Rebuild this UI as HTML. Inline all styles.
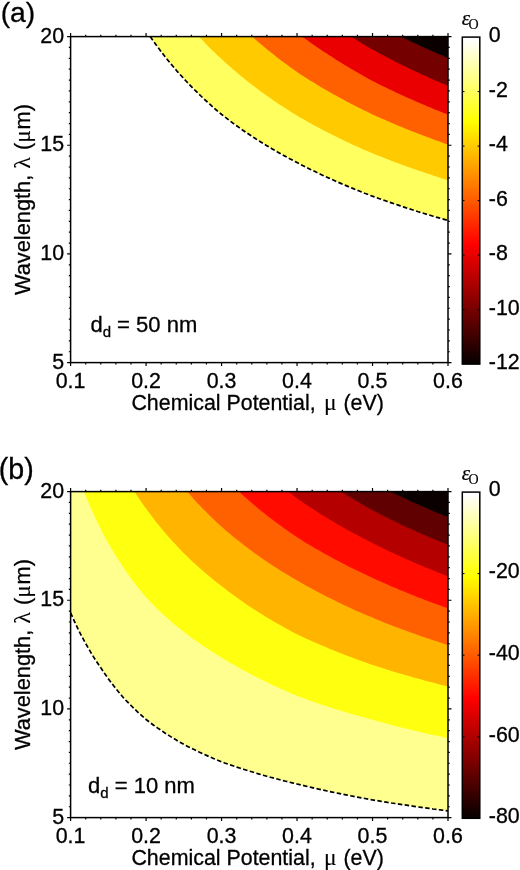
<!DOCTYPE html>
<html lang="en"><head><meta charset="utf-8"><title>Figure</title>
<style>
html,body{margin:0;padding:0;background:#fff;}
body{width:520px;height:870px;overflow:hidden;}
svg{display:block;}
</style></head><body>
<svg width="520" height="870" viewBox="0 0 520 870">
<defs><linearGradient id="hotgrad" x1="0" y1="0" x2="0" y2="1"><stop offset="0.0078" stop-color="#ffffff"/><stop offset="0.0234" stop-color="#ffffef"/><stop offset="0.0391" stop-color="#ffffdf"/><stop offset="0.0547" stop-color="#ffffcf"/><stop offset="0.0703" stop-color="#ffffbf"/><stop offset="0.0859" stop-color="#ffffaf"/><stop offset="0.1016" stop-color="#ffff9f"/><stop offset="0.1172" stop-color="#ffff8f"/><stop offset="0.1328" stop-color="#ffff80"/><stop offset="0.1484" stop-color="#ffff70"/><stop offset="0.1641" stop-color="#ffff60"/><stop offset="0.1797" stop-color="#ffff50"/><stop offset="0.1953" stop-color="#ffff40"/><stop offset="0.2109" stop-color="#ffff30"/><stop offset="0.2266" stop-color="#ffff20"/><stop offset="0.2422" stop-color="#ffff10"/><stop offset="0.2578" stop-color="#ffff00"/><stop offset="0.2734" stop-color="#fff400"/><stop offset="0.2891" stop-color="#ffea00"/><stop offset="0.3047" stop-color="#ffdf00"/><stop offset="0.3203" stop-color="#ffd400"/><stop offset="0.3359" stop-color="#ffca00"/><stop offset="0.3516" stop-color="#ffbf00"/><stop offset="0.3672" stop-color="#ffb500"/><stop offset="0.3828" stop-color="#ffaa00"/><stop offset="0.3984" stop-color="#ff9f00"/><stop offset="0.4141" stop-color="#ff9500"/><stop offset="0.4297" stop-color="#ff8a00"/><stop offset="0.4453" stop-color="#ff8000"/><stop offset="0.4609" stop-color="#ff7500"/><stop offset="0.4766" stop-color="#ff6a00"/><stop offset="0.4922" stop-color="#ff6000"/><stop offset="0.5078" stop-color="#ff5500"/><stop offset="0.5234" stop-color="#ff4a00"/><stop offset="0.5391" stop-color="#ff4000"/><stop offset="0.5547" stop-color="#ff3500"/><stop offset="0.5703" stop-color="#ff2a00"/><stop offset="0.5859" stop-color="#ff2000"/><stop offset="0.6016" stop-color="#ff1500"/><stop offset="0.6172" stop-color="#ff0b00"/><stop offset="0.6328" stop-color="#ff0000"/><stop offset="0.6484" stop-color="#f40000"/><stop offset="0.6641" stop-color="#ea0000"/><stop offset="0.6797" stop-color="#df0000"/><stop offset="0.6953" stop-color="#d40000"/><stop offset="0.7109" stop-color="#ca0000"/><stop offset="0.7266" stop-color="#bf0000"/><stop offset="0.7422" stop-color="#b50000"/><stop offset="0.7578" stop-color="#aa0000"/><stop offset="0.7734" stop-color="#9f0000"/><stop offset="0.7891" stop-color="#950000"/><stop offset="0.8047" stop-color="#8a0000"/><stop offset="0.8203" stop-color="#800000"/><stop offset="0.8359" stop-color="#750000"/><stop offset="0.8516" stop-color="#6a0000"/><stop offset="0.8672" stop-color="#600000"/><stop offset="0.8828" stop-color="#550000"/><stop offset="0.8984" stop-color="#4a0000"/><stop offset="0.9141" stop-color="#400000"/><stop offset="0.9297" stop-color="#350000"/><stop offset="0.9453" stop-color="#2a0000"/><stop offset="0.9609" stop-color="#200000"/><stop offset="0.9766" stop-color="#150000"/><stop offset="0.9922" stop-color="#0b0000"/></linearGradient></defs>
<rect width="520" height="870" fill="#fff"/>
<g id="panel-a">
<clipPath id="clip-a"><rect x="70.6" y="36.6" width="377.4" height="326.0"/></clipPath>
<g clip-path="url(#clip-a)">
<path d="M150.2,36.6 L153.2,40.9 L156.2,45.0 L159.2,49.0 L162.1,52.9 L165.1,56.8 L168.1,60.5 L171.1,64.1 L174.1,67.6 L177.0,71.1 L180.0,74.5 L183.0,77.7 L186.0,81.0 L188.9,84.1 L191.9,87.2 L194.9,90.2 L197.9,93.1 L200.9,96.0 L203.8,98.8 L206.8,101.5 L209.8,104.2 L212.8,106.9 L215.7,109.5 L218.7,112.0 L221.7,114.5 L224.7,116.8 L227.7,119.1 L230.6,121.4 L233.6,123.6 L236.6,125.7 L239.6,127.9 L242.5,130.0 L245.5,132.0 L248.5,134.0 L251.5,136.0 L254.5,138.0 L257.4,139.9 L260.4,141.7 L263.4,143.6 L266.4,145.4 L269.3,147.2 L272.3,149.0 L275.3,150.7 L278.3,152.4 L281.2,154.1 L284.2,155.7 L287.2,157.4 L290.2,159.0 L293.2,160.5 L296.1,162.1 L299.1,163.7 L302.1,165.2 L305.1,166.7 L308.0,168.2 L311.0,169.7 L314.0,171.1 L317.0,172.6 L320.0,174.0 L322.9,175.4 L325.9,176.8 L328.9,178.1 L331.9,179.5 L334.8,180.8 L337.8,182.1 L340.8,183.4 L343.8,184.7 L346.8,185.9 L349.7,187.2 L352.7,188.4 L355.7,189.6 L358.7,190.8 L361.6,192.0 L364.6,193.2 L367.6,194.3 L370.6,195.5 L373.6,196.6 L376.5,197.7 L379.5,198.7 L382.5,199.8 L385.5,200.8 L388.4,201.9 L391.4,202.9 L394.4,203.9 L397.4,204.9 L400.4,205.9 L403.3,206.9 L406.3,207.9 L409.3,208.8 L412.3,209.8 L415.2,210.7 L418.2,211.7 L421.2,212.6 L424.2,213.5 L427.2,214.4 L430.1,215.3 L433.1,216.2 L436.1,217.1 L439.1,217.9 L442.0,218.8 L445.0,219.6 L448.0,220.5 L450.0,220.5 L450.0,34.6 L150.2,34.6 Z" fill="#ffff60"/>
<path d="M198.9,36.6 L201.4,39.2 L203.9,41.8 L206.4,44.4 L208.9,46.9 L211.4,49.4 L213.9,51.8 L216.4,54.2 L218.8,56.5 L221.3,58.8 L223.8,61.1 L226.3,63.4 L228.8,65.6 L231.3,67.8 L233.8,69.9 L236.3,72.1 L238.8,74.2 L241.3,76.2 L243.8,78.3 L246.2,80.3 L248.7,82.2 L251.2,84.2 L253.7,86.1 L256.2,88.0 L258.7,89.8 L261.2,91.7 L263.7,93.5 L266.2,95.3 L268.7,97.0 L271.2,98.8 L273.6,100.5 L276.1,102.2 L278.6,103.9 L281.1,105.5 L283.6,107.1 L286.1,108.7 L288.6,110.3 L291.1,111.9 L293.6,113.4 L296.1,115.0 L298.5,116.5 L301.0,117.9 L303.5,119.3 L306.0,120.8 L308.5,122.2 L311.0,123.6 L313.5,124.9 L316.0,126.3 L318.5,127.6 L321.0,128.9 L323.5,130.3 L325.9,131.5 L328.4,132.8 L330.9,134.1 L333.4,135.3 L335.9,136.6 L338.4,137.8 L340.9,139.0 L343.4,140.2 L345.9,141.4 L348.4,142.6 L350.9,143.7 L353.3,144.9 L355.8,146.0 L358.3,147.1 L360.8,148.3 L363.3,149.4 L365.8,150.4 L368.3,151.5 L370.8,152.6 L373.3,153.6 L375.8,154.7 L378.3,155.7 L380.7,156.6 L383.2,157.6 L385.7,158.6 L388.2,159.6 L390.7,160.5 L393.2,161.5 L395.7,162.4 L398.2,163.3 L400.7,164.2 L403.2,165.2 L405.7,166.1 L408.1,167.0 L410.6,167.8 L413.1,168.7 L415.6,169.6 L418.1,170.4 L420.6,171.3 L423.1,172.1 L425.6,173.0 L428.1,173.8 L430.6,174.6 L433.1,175.5 L435.5,176.3 L438.0,177.1 L440.5,177.9 L443.0,178.7 L445.5,179.4 L448.0,180.2 L450.0,180.2 L450.0,34.6 L198.9,34.6 Z" fill="#ffca00"/>
<path d="M252.1,36.6 L254.1,38.3 L256.0,40.0 L258.0,41.7 L260.0,43.4 L261.9,45.1 L263.9,46.7 L265.8,48.3 L267.8,49.9 L269.8,51.5 L271.7,53.1 L273.7,54.6 L275.6,56.2 L277.6,57.7 L279.6,59.2 L281.5,60.7 L283.5,62.2 L285.4,63.6 L287.4,65.1 L289.3,66.5 L291.3,67.9 L293.3,69.3 L295.2,70.7 L297.2,72.1 L299.1,73.4 L301.1,74.7 L303.1,75.9 L305.0,77.2 L307.0,78.4 L308.9,79.7 L310.9,80.9 L312.8,82.1 L314.8,83.3 L316.8,84.5 L318.7,85.7 L320.7,86.9 L322.6,88.0 L324.6,89.2 L326.6,90.3 L328.5,91.4 L330.5,92.6 L332.4,93.7 L334.4,94.8 L336.4,95.8 L338.3,96.9 L340.3,98.0 L342.2,99.1 L344.2,100.1 L346.1,101.2 L348.1,102.2 L350.1,103.2 L352.0,104.2 L354.0,105.2 L355.9,106.3 L357.9,107.2 L359.9,108.2 L361.8,109.2 L363.8,110.2 L365.7,111.1 L367.7,112.1 L369.7,113.0 L371.6,114.0 L373.6,114.9 L375.5,115.8 L377.5,116.7 L379.4,117.5 L381.4,118.4 L383.4,119.3 L385.3,120.1 L387.3,121.0 L389.2,121.8 L391.2,122.7 L393.2,123.5 L395.1,124.3 L397.1,125.2 L399.0,126.0 L401.0,126.8 L402.9,127.6 L404.9,128.4 L406.9,129.2 L408.8,129.9 L410.8,130.7 L412.7,131.5 L414.7,132.3 L416.7,133.0 L418.6,133.8 L420.6,134.5 L422.5,135.3 L424.5,136.0 L426.5,136.8 L428.4,137.5 L430.4,138.2 L432.3,138.9 L434.3,139.7 L436.2,140.4 L438.2,141.1 L440.2,141.8 L442.1,142.5 L444.1,143.2 L446.0,143.9 L448.0,144.5 L450.0,144.5 L450.0,34.6 L252.1,34.6 Z" fill="#ff6000"/>
<path d="M302.3,36.6 L303.8,37.7 L305.2,38.7 L306.7,39.8 L308.2,40.8 L309.6,41.9 L311.1,42.9 L312.5,43.9 L314.0,44.9 L315.4,46.0 L316.9,47.0 L318.3,48.0 L319.8,48.9 L321.3,49.9 L322.7,50.9 L324.2,51.9 L325.6,52.8 L327.1,53.8 L328.5,54.8 L330.0,55.7 L331.5,56.6 L332.9,57.6 L334.4,58.5 L335.8,59.4 L337.3,60.4 L338.7,61.3 L340.2,62.2 L341.7,63.1 L343.1,64.0 L344.6,64.9 L346.0,65.7 L347.5,66.6 L348.9,67.5 L350.4,68.4 L351.9,69.2 L353.3,70.1 L354.8,70.9 L356.2,71.8 L357.7,72.6 L359.1,73.4 L360.6,74.3 L362.1,75.1 L363.5,75.9 L365.0,76.7 L366.4,77.6 L367.9,78.4 L369.3,79.2 L370.8,80.0 L372.2,80.8 L373.7,81.5 L375.2,82.3 L376.6,83.0 L378.1,83.7 L379.5,84.5 L381.0,85.2 L382.4,85.9 L383.9,86.6 L385.4,87.3 L386.8,88.0 L388.3,88.7 L389.7,89.4 L391.2,90.1 L392.6,90.8 L394.1,91.5 L395.6,92.2 L397.0,92.9 L398.5,93.6 L399.9,94.2 L401.4,94.9 L402.8,95.6 L404.3,96.2 L405.8,96.9 L407.2,97.5 L408.7,98.2 L410.1,98.8 L411.6,99.5 L413.0,100.1 L414.5,100.8 L416.0,101.4 L417.4,102.0 L418.9,102.7 L420.3,103.3 L421.8,103.9 L423.2,104.5 L424.7,105.1 L426.1,105.8 L427.6,106.4 L429.1,107.0 L430.5,107.6 L432.0,108.2 L433.4,108.8 L434.9,109.4 L436.3,110.0 L437.8,110.6 L439.3,111.1 L440.7,111.7 L442.2,112.3 L443.6,112.9 L445.1,113.5 L446.5,114.0 L448.0,114.6 L450.0,114.6 L450.0,34.6 L302.3,34.6 Z" fill="#ea0000"/>
<path d="M351.0,36.6 L352.0,37.2 L352.9,37.8 L353.9,38.4 L354.9,39.0 L355.9,39.6 L356.8,40.2 L357.8,40.8 L358.8,41.4 L359.7,42.0 L360.7,42.6 L361.7,43.2 L362.6,43.8 L363.6,44.4 L364.6,44.9 L365.6,45.5 L366.5,46.1 L367.5,46.7 L368.5,47.3 L369.4,47.8 L370.4,48.4 L371.4,49.0 L372.3,49.5 L373.3,50.1 L374.3,50.6 L375.3,51.1 L376.2,51.6 L377.2,52.2 L378.2,52.7 L379.1,53.2 L380.1,53.7 L381.1,54.3 L382.0,54.8 L383.0,55.3 L384.0,55.8 L385.0,56.3 L385.9,56.8 L386.9,57.3 L387.9,57.8 L388.8,58.3 L389.8,58.8 L390.8,59.3 L391.7,59.8 L392.7,60.3 L393.7,60.8 L394.7,61.3 L395.6,61.8 L396.6,62.3 L397.6,62.8 L398.5,63.3 L399.5,63.7 L400.5,64.2 L401.4,64.7 L402.4,65.2 L403.4,65.6 L404.4,66.1 L405.3,66.6 L406.3,67.1 L407.3,67.5 L408.2,68.0 L409.2,68.5 L410.2,68.9 L411.1,69.4 L412.1,69.9 L413.1,70.3 L414.1,70.8 L415.0,71.2 L416.0,71.7 L417.0,72.1 L417.9,72.6 L418.9,73.0 L419.9,73.5 L420.8,73.9 L421.8,74.4 L422.8,74.8 L423.8,75.3 L424.7,75.7 L425.7,76.1 L426.7,76.6 L427.6,77.0 L428.6,77.4 L429.6,77.9 L430.5,78.3 L431.5,78.7 L432.5,79.2 L433.5,79.6 L434.4,80.0 L435.4,80.5 L436.4,80.9 L437.3,81.3 L438.3,81.7 L439.3,82.1 L440.2,82.6 L441.2,83.0 L442.2,83.4 L443.2,83.8 L444.1,84.2 L445.1,84.6 L446.1,85.0 L447.0,85.4 L448.0,85.8 L450.0,85.8 L450.0,34.6 L351.0,34.6 Z" fill="#750000"/>
<path d="M400.8,36.6 L401.3,36.8 L401.8,37.1 L402.2,37.3 L402.7,37.5 L403.2,37.8 L403.7,38.0 L404.1,38.2 L404.6,38.4 L405.1,38.7 L405.5,38.9 L406.0,39.1 L406.5,39.4 L407.0,39.6 L407.4,39.8 L407.9,40.0 L408.4,40.3 L408.8,40.5 L409.3,40.7 L409.8,40.9 L410.3,41.2 L410.7,41.4 L411.2,41.6 L411.7,41.8 L412.1,42.1 L412.6,42.3 L413.1,42.5 L413.6,42.7 L414.0,43.0 L414.5,43.2 L415.0,43.4 L415.4,43.6 L415.9,43.8 L416.4,44.1 L416.9,44.3 L417.3,44.5 L417.8,44.7 L418.3,44.9 L418.8,45.1 L419.2,45.4 L419.7,45.6 L420.2,45.8 L420.6,46.0 L421.1,46.2 L421.6,46.4 L422.1,46.7 L422.5,46.9 L423.0,47.1 L423.5,47.3 L423.9,47.5 L424.4,47.7 L424.9,47.9 L425.4,48.2 L425.8,48.4 L426.3,48.6 L426.8,48.8 L427.2,49.0 L427.7,49.2 L428.2,49.4 L428.7,49.6 L429.1,49.8 L429.6,50.1 L430.1,50.3 L430.5,50.5 L431.0,50.7 L431.5,50.9 L432.0,51.1 L432.4,51.3 L432.9,51.5 L433.4,51.7 L433.8,51.9 L434.3,52.1 L434.8,52.3 L435.3,52.5 L435.7,52.7 L436.2,52.9 L436.7,53.2 L437.1,53.4 L437.6,53.6 L438.1,53.8 L438.6,54.0 L439.0,54.2 L439.5,54.4 L440.0,54.6 L440.5,54.8 L440.9,55.0 L441.4,55.2 L441.9,55.4 L442.3,55.6 L442.8,55.8 L443.3,56.0 L443.8,56.2 L444.2,56.4 L444.7,56.6 L445.2,56.8 L445.6,57.0 L446.1,57.2 L446.6,57.4 L447.1,57.6 L447.5,57.8 L448.0,58.0 L450.0,58.0 L450.0,34.6 L400.8,34.6 Z" fill="#0b0000"/>
<path d="M150.2,36.6 L153.2,40.9 L156.2,45.0 L159.2,49.0 L162.1,52.9 L165.1,56.8 L168.1,60.5 L171.1,64.1 L174.1,67.6 L177.0,71.1 L180.0,74.5 L183.0,77.7 L186.0,81.0 L188.9,84.1 L191.9,87.2 L194.9,90.2 L197.9,93.1 L200.9,96.0 L203.8,98.8 L206.8,101.5 L209.8,104.2 L212.8,106.9 L215.7,109.5 L218.7,112.0 L221.7,114.5 L224.7,116.8 L227.7,119.1 L230.6,121.4 L233.6,123.6 L236.6,125.7 L239.6,127.9 L242.5,130.0 L245.5,132.0 L248.5,134.0 L251.5,136.0 L254.5,138.0 L257.4,139.9 L260.4,141.7 L263.4,143.6 L266.4,145.4 L269.3,147.2 L272.3,149.0 L275.3,150.7 L278.3,152.4 L281.2,154.1 L284.2,155.7 L287.2,157.4 L290.2,159.0 L293.2,160.5 L296.1,162.1 L299.1,163.7 L302.1,165.2 L305.1,166.7 L308.0,168.2 L311.0,169.7 L314.0,171.1 L317.0,172.6 L320.0,174.0 L322.9,175.4 L325.9,176.8 L328.9,178.1 L331.9,179.5 L334.8,180.8 L337.8,182.1 L340.8,183.4 L343.8,184.7 L346.8,185.9 L349.7,187.2 L352.7,188.4 L355.7,189.6 L358.7,190.8 L361.6,192.0 L364.6,193.2 L367.6,194.3 L370.6,195.5 L373.6,196.6 L376.5,197.7 L379.5,198.7 L382.5,199.8 L385.5,200.8 L388.4,201.9 L391.4,202.9 L394.4,203.9 L397.4,204.9 L400.4,205.9 L403.3,206.9 L406.3,207.9 L409.3,208.8 L412.3,209.8 L415.2,210.7 L418.2,211.7 L421.2,212.6 L424.2,213.5 L427.2,214.4 L430.1,215.3 L433.1,216.2 L436.1,217.1 L439.1,217.9 L442.0,218.8 L445.0,219.6 L448.0,220.5" fill="none" stroke="#000" stroke-width="1.7" stroke-dasharray="4.5,2.4"/>
</g>
<rect x="70.6" y="36.6" width="377.4" height="326.0" fill="none" stroke="#000" stroke-width="1.5"/>
<path d="M70.60,36.6 v-3.5 M70.60,362.6 v3.5 M85.70,36.6 v-1.8 M85.70,362.6 v1.8 M100.79,36.6 v-1.8 M100.79,362.6 v1.8 M115.89,36.6 v-1.8 M115.89,362.6 v1.8 M130.98,36.6 v-1.8 M130.98,362.6 v1.8 M146.08,36.6 v-3.5 M146.08,362.6 v3.5 M161.18,36.6 v-1.8 M161.18,362.6 v1.8 M176.27,36.6 v-1.8 M176.27,362.6 v1.8 M191.37,36.6 v-1.8 M191.37,362.6 v1.8 M206.46,36.6 v-1.8 M206.46,362.6 v1.8 M221.56,36.6 v-3.5 M221.56,362.6 v3.5 M236.66,36.6 v-1.8 M236.66,362.6 v1.8 M251.75,36.6 v-1.8 M251.75,362.6 v1.8 M266.85,36.6 v-1.8 M266.85,362.6 v1.8 M281.94,36.6 v-1.8 M281.94,362.6 v1.8 M297.04,36.6 v-3.5 M297.04,362.6 v3.5 M312.14,36.6 v-1.8 M312.14,362.6 v1.8 M327.23,36.6 v-1.8 M327.23,362.6 v1.8 M342.33,36.6 v-1.8 M342.33,362.6 v1.8 M357.42,36.6 v-1.8 M357.42,362.6 v1.8 M372.52,36.6 v-3.5 M372.52,362.6 v3.5 M387.62,36.6 v-1.8 M387.62,362.6 v1.8 M402.71,36.6 v-1.8 M402.71,362.6 v1.8 M417.81,36.6 v-1.8 M417.81,362.6 v1.8 M432.90,36.6 v-1.8 M432.90,362.6 v1.8 M448.00,36.6 v-3.5 M448.00,362.6 v3.5 M70.6,362.60 h-3.5 M448.0,362.60 h3.5 M70.6,351.73 h-1.8 M448.0,351.73 h1.8 M70.6,340.87 h-1.8 M448.0,340.87 h1.8 M70.6,330.00 h-1.8 M448.0,330.00 h1.8 M70.6,319.13 h-1.8 M448.0,319.13 h1.8 M70.6,308.27 h-1.8 M448.0,308.27 h1.8 M70.6,297.40 h-1.8 M448.0,297.40 h1.8 M70.6,286.53 h-1.8 M448.0,286.53 h1.8 M70.6,275.67 h-1.8 M448.0,275.67 h1.8 M70.6,264.80 h-1.8 M448.0,264.80 h1.8 M70.6,253.93 h-3.5 M448.0,253.93 h3.5 M70.6,243.07 h-1.8 M448.0,243.07 h1.8 M70.6,232.20 h-1.8 M448.0,232.20 h1.8 M70.6,221.33 h-1.8 M448.0,221.33 h1.8 M70.6,210.47 h-1.8 M448.0,210.47 h1.8 M70.6,199.60 h-1.8 M448.0,199.60 h1.8 M70.6,188.73 h-1.8 M448.0,188.73 h1.8 M70.6,177.87 h-1.8 M448.0,177.87 h1.8 M70.6,167.00 h-1.8 M448.0,167.00 h1.8 M70.6,156.13 h-1.8 M448.0,156.13 h1.8 M70.6,145.27 h-3.5 M448.0,145.27 h3.5 M70.6,134.40 h-1.8 M448.0,134.40 h1.8 M70.6,123.53 h-1.8 M448.0,123.53 h1.8 M70.6,112.67 h-1.8 M448.0,112.67 h1.8 M70.6,101.80 h-1.8 M448.0,101.80 h1.8 M70.6,90.93 h-1.8 M448.0,90.93 h1.8 M70.6,80.07 h-1.8 M448.0,80.07 h1.8 M70.6,69.20 h-1.8 M448.0,69.20 h1.8 M70.6,58.33 h-1.8 M448.0,58.33 h1.8 M70.6,47.47 h-1.8 M448.0,47.47 h1.8 M70.6,36.60 h-3.5 M448.0,36.60 h3.5" stroke="#000" stroke-width="1.2" fill="none"/>
<g font-family='"Liberation Sans", Arial, Helvetica, sans-serif' font-size="22" fill="#000" stroke="#000" stroke-width="0.3">
<text transform="translate(70.6,387.9) scale(1,1.06)" text-anchor="middle" font-size="21.4">0.1</text>
<text transform="translate(146.1,387.9) scale(1,1.06)" text-anchor="middle" font-size="21.4">0.2</text>
<text transform="translate(221.6,387.9) scale(1,1.06)" text-anchor="middle" font-size="21.4">0.3</text>
<text transform="translate(297.0,387.9) scale(1,1.06)" text-anchor="middle" font-size="21.4">0.4</text>
<text transform="translate(372.5,387.9) scale(1,1.06)" text-anchor="middle" font-size="21.4">0.5</text>
<text transform="translate(448.0,387.9) scale(1,1.06)" text-anchor="middle" font-size="21.4">0.6</text>
<text transform="translate(64.1,368.6) scale(1,1.06)" text-anchor="end" font-size="21.4">5</text>
<text transform="translate(64.1,259.9) scale(1,1.06)" text-anchor="end" font-size="21.4">10</text>
<text transform="translate(64.1,151.3) scale(1,1.06)" text-anchor="end" font-size="21.4">15</text>
<text transform="translate(64.1,42.6) scale(1,1.06)" text-anchor="end" font-size="21.4">20</text>
<text transform="translate(0,409.8) scale(1,1.025)" font-size="21.4"><tspan x="131.4">Chemical Potential,</tspan> <tspan x="324.0" font-family='"Liberation Serif", "Times New Roman", serif' font-size="23.5" stroke-width="0.1">μ</tspan> <tspan x="343.4">(eV)</tspan></text>
<text transform="translate(29.8,295.1) rotate(-90)" font-size="21.8"><tspan x="0">Wavelength,</tspan> <tspan x="126.6" font-family='"Liberation Serif", "Times New Roman", serif' font-size="23.5" stroke-width="0.1">λ</tspan> <tspan x="145.0">(</tspan><tspan x="152.3" font-family='"Liberation Serif", "Times New Roman", serif' font-size="23.5" stroke-width="0.1">μ</tspan><tspan x="165.6">m)</tspan></text>
<text x="90.4" y="332.3">d<tspan font-size="15" dy="5">d</tspan><tspan dy="-5"> = 50 nm</tspan></text>
<text x="0.7" y="21.75" font-size="28.3">(a)</text>
<rect x="462.3" y="37.1" width="17.5" height="327.0" fill="url(#hotgrad)" stroke="#000" stroke-width="1.5"/>
<text transform="translate(488.8,42.2) scale(1,1.06)" text-anchor="start" font-size="21.4">0</text>
<text transform="translate(488.8,96.7) scale(1,1.06)" text-anchor="start" font-size="21.4">-2</text>
<text transform="translate(488.8,151.2) scale(1,1.06)" text-anchor="start" font-size="21.4">-4</text>
<text transform="translate(488.8,205.6) scale(1,1.06)" text-anchor="start" font-size="21.4">-6</text>
<text transform="translate(488.8,260.1) scale(1,1.06)" text-anchor="start" font-size="21.4">-8</text>
<text transform="translate(488.8,314.6) scale(1,1.06)" text-anchor="start" font-size="21.4">-10</text>
<text transform="translate(488.8,369.1) scale(1,1.06)" text-anchor="start" font-size="21.4">-12</text>
<path d="M462.3,91.6 h2.2 M479.8,91.6 h-2.2 M462.3,146.1 h2.2 M479.8,146.1 h-2.2 M462.3,200.6 h2.2 M479.8,200.6 h-2.2 M462.3,255.1 h2.2 M479.8,255.1 h-2.2 M462.3,309.6 h2.2 M479.8,309.6 h-2.2" stroke="#000" stroke-width="1"/>
<text x="461.8" y="25.1" font-family='"Liberation Serif", "Times New Roman", serif' font-style="italic" font-size="21" stroke-width="0.2">ε<tspan font-style="normal" font-size="14" dy="4" dx="-1.5">O</tspan></text>
</g>
</g>
<g id="panel-b">
<clipPath id="clip-b"><rect x="70.6" y="491.6" width="377.4" height="326.0"/></clipPath>
<g clip-path="url(#clip-b)">
<path d="M70.6,612.8 L74.4,621.3 L78.1,629.2 L81.9,636.6 L85.7,643.6 L89.5,650.2 L93.2,656.4 L97.0,662.2 L100.8,667.8 L104.6,673.4 L108.3,678.7 L112.1,683.8 L115.9,688.6 L119.7,693.3 L123.4,697.7 L127.2,701.7 L131.0,705.5 L134.8,709.2 L138.5,712.8 L142.3,716.2 L146.1,719.5 L149.9,722.4 L153.6,725.2 L157.4,727.9 L161.2,730.4 L164.9,733.0 L168.7,735.4 L172.5,737.8 L176.3,740.0 L180.0,742.3 L183.8,744.4 L187.6,746.4 L191.4,748.3 L195.1,750.1 L198.9,751.9 L202.7,753.7 L206.5,755.4 L210.2,757.1 L214.0,758.7 L217.8,760.3 L221.6,761.8 L225.3,763.2 L229.1,764.5 L232.9,765.8 L236.7,767.1 L240.4,768.3 L244.2,769.5 L248.0,770.7 L251.8,771.8 L255.5,773.0 L259.3,774.1 L263.1,775.2 L266.8,776.2 L270.6,777.3 L274.4,778.3 L278.2,779.3 L281.9,780.3 L285.7,781.2 L289.5,782.2 L293.3,783.1 L297.0,784.0 L300.8,784.9 L304.6,785.8 L308.4,786.7 L312.1,787.6 L315.9,788.5 L319.7,789.3 L323.5,790.2 L327.2,791.0 L331.0,791.8 L334.8,792.6 L338.6,793.4 L342.3,794.2 L346.1,794.9 L349.9,795.7 L353.6,796.4 L357.4,797.1 L361.2,797.8 L365.0,798.5 L368.7,799.2 L372.5,799.9 L376.3,800.5 L380.1,801.2 L383.8,801.8 L387.6,802.4 L391.4,803.0 L395.2,803.5 L398.9,804.1 L402.7,804.7 L406.5,805.2 L410.3,805.8 L414.0,806.3 L417.8,806.9 L421.6,807.4 L425.4,807.9 L429.1,808.4 L432.9,809.0 L436.7,809.5 L440.5,809.9 L444.2,810.4 L448.0,810.9 L450.0,810.9 L450.0,489.6 L70.6,489.6 Z" fill="#ffff8f"/>
<path d="M84.0,491.6 L87.6,500.6 L91.3,509.1 L94.9,517.1 L98.6,524.7 L102.2,531.9 L105.8,538.7 L109.5,545.2 L113.1,551.5 L116.8,557.4 L120.4,563.1 L124.0,568.6 L127.7,573.8 L131.3,578.8 L135.0,583.7 L138.6,588.3 L142.2,592.8 L145.9,597.1 L149.5,601.0 L153.2,604.8 L156.8,608.4 L160.4,611.9 L164.1,615.3 L167.7,618.6 L171.4,621.8 L175.0,624.9 L178.6,627.8 L182.3,630.7 L185.9,633.6 L189.6,636.3 L193.2,639.0 L196.8,641.5 L200.5,644.1 L204.1,646.5 L207.8,648.9 L211.4,651.2 L215.0,653.5 L218.7,655.7 L222.3,657.9 L226.0,660.2 L229.6,662.4 L233.2,664.5 L236.9,666.6 L240.5,668.7 L244.2,670.7 L247.8,672.6 L251.4,674.6 L255.1,676.5 L258.7,678.3 L262.4,680.1 L266.0,681.9 L269.6,683.6 L273.3,685.4 L276.9,687.0 L280.6,688.7 L284.2,690.3 L287.8,691.9 L291.5,693.4 L295.1,695.0 L298.8,696.4 L302.4,697.8 L306.0,699.1 L309.7,700.4 L313.3,701.7 L317.0,702.9 L320.6,704.2 L324.2,705.4 L327.9,706.6 L331.5,707.8 L335.2,708.9 L338.8,710.1 L342.4,711.2 L346.1,712.3 L349.7,713.4 L353.4,714.5 L357.0,715.5 L360.6,716.6 L364.3,717.6 L367.9,718.6 L371.6,719.6 L375.2,720.6 L378.8,721.6 L382.5,722.6 L386.1,723.5 L389.8,724.5 L393.4,725.4 L397.0,726.4 L400.7,727.3 L404.3,728.2 L408.0,729.1 L411.6,729.9 L415.2,730.8 L418.9,731.7 L422.5,732.5 L426.2,733.4 L429.8,734.2 L433.4,735.0 L437.1,735.8 L440.7,736.6 L444.4,737.4 L448.0,738.2 L450.0,738.2 L450.0,489.6 L84.0,489.6 Z" fill="#ffff10"/>
<path d="M134.4,491.6 L137.5,496.3 L140.7,500.9 L143.8,505.4 L146.9,509.7 L150.1,514.0 L153.2,518.1 L156.3,522.2 L159.5,526.1 L162.6,529.9 L165.7,533.6 L168.9,537.2 L172.0,540.7 L175.2,544.1 L178.3,547.4 L181.4,550.7 L184.6,553.9 L187.7,556.9 L190.8,559.9 L194.0,562.9 L197.1,565.8 L200.2,568.6 L203.4,571.3 L206.5,574.0 L209.6,576.6 L212.8,579.2 L215.9,581.7 L219.1,584.2 L222.2,586.6 L225.3,589.0 L228.5,591.4 L231.6,593.8 L234.7,596.1 L237.9,598.3 L241.0,600.6 L244.1,602.7 L247.3,604.9 L250.4,607.0 L253.6,609.0 L256.7,611.1 L259.8,613.0 L263.0,615.0 L266.1,616.9 L269.2,618.8 L272.4,620.7 L275.5,622.5 L278.6,624.3 L281.8,626.1 L284.9,627.8 L288.1,629.5 L291.2,631.2 L294.3,632.9 L297.5,634.5 L300.6,636.0 L303.7,637.4 L306.9,638.9 L310.0,640.3 L313.1,641.7 L316.3,643.1 L319.4,644.5 L322.6,645.8 L325.7,647.1 L328.8,648.5 L332.0,649.7 L335.1,651.0 L338.2,652.3 L341.4,653.5 L344.5,654.7 L347.6,655.9 L350.8,657.1 L353.9,658.3 L357.1,659.4 L360.2,660.6 L363.3,661.7 L366.5,662.8 L369.6,663.9 L372.7,665.0 L375.9,666.0 L379.0,667.0 L382.1,668.0 L385.3,669.0 L388.4,670.0 L391.5,671.0 L394.7,671.9 L397.8,672.9 L401.0,673.8 L404.1,674.7 L407.2,675.6 L410.4,676.5 L413.5,677.4 L416.6,678.3 L419.8,679.1 L422.9,680.0 L426.0,680.9 L429.2,681.7 L432.3,682.5 L435.5,683.3 L438.6,684.2 L441.7,685.0 L444.9,685.8 L448.0,686.5 L450.0,686.5 L450.0,489.6 L134.4,489.6 Z" fill="#ffb500"/>
<path d="M187.2,491.6 L189.8,494.6 L192.4,497.5 L195.0,500.4 L197.6,503.2 L200.3,506.0 L202.9,508.7 L205.5,511.3 L208.1,513.9 L210.7,516.5 L213.3,519.0 L215.9,521.5 L218.5,523.9 L221.1,526.3 L223.7,528.6 L226.3,530.9 L228.9,533.1 L231.5,535.3 L234.2,537.4 L236.8,539.5 L239.4,541.6 L242.0,543.6 L244.6,545.7 L247.2,547.6 L249.8,549.6 L252.4,551.5 L255.0,553.4 L257.6,555.3 L260.2,557.1 L262.8,558.9 L265.5,560.7 L268.1,562.4 L270.7,564.2 L273.3,565.9 L275.9,567.6 L278.5,569.2 L281.1,570.9 L283.7,572.5 L286.3,574.1 L288.9,575.6 L291.5,577.2 L294.1,578.7 L296.7,580.2 L299.4,581.7 L302.0,583.2 L304.6,584.7 L307.2,586.2 L309.8,587.6 L312.4,589.0 L315.0,590.5 L317.6,591.8 L320.2,593.2 L322.8,594.6 L325.4,595.9 L328.0,597.2 L330.6,598.5 L333.3,599.8 L335.9,601.1 L338.5,602.4 L341.1,603.6 L343.7,604.9 L346.3,606.1 L348.9,607.3 L351.5,608.5 L354.1,609.7 L356.7,610.9 L359.3,612.0 L361.9,613.2 L364.5,614.3 L367.2,615.4 L369.8,616.5 L372.4,617.6 L375.0,618.7 L377.6,619.8 L380.2,620.8 L382.8,621.9 L385.4,622.9 L388.0,623.9 L390.6,624.9 L393.2,625.9 L395.8,626.9 L398.5,627.9 L401.1,628.9 L403.7,629.9 L406.3,630.8 L408.9,631.8 L411.5,632.7 L414.1,633.6 L416.7,634.6 L419.3,635.5 L421.9,636.4 L424.5,637.3 L427.1,638.2 L429.7,639.0 L432.4,639.9 L435.0,640.8 L437.6,641.6 L440.2,642.5 L442.8,643.3 L445.4,644.2 L448.0,645.0 L450.0,645.0 L450.0,489.6 L187.2,489.6 Z" fill="#ff6000"/>
<path d="M238.9,491.6 L241.0,493.5 L243.1,495.4 L245.2,497.3 L247.3,499.1 L249.4,500.9 L251.5,502.7 L253.6,504.5 L255.6,506.3 L257.7,508.0 L259.8,509.7 L261.9,511.4 L264.0,513.1 L266.1,514.7 L268.2,516.4 L270.3,518.0 L272.4,519.6 L274.5,521.2 L276.6,522.7 L278.6,524.3 L280.7,525.8 L282.8,527.3 L284.9,528.8 L287.0,530.3 L289.1,531.8 L291.2,533.2 L293.3,534.6 L295.4,536.1 L297.5,537.5 L299.6,538.8 L301.6,540.1 L303.7,541.4 L305.8,542.7 L307.9,543.9 L310.0,545.2 L312.1,546.5 L314.2,547.7 L316.3,548.9 L318.4,550.1 L320.5,551.3 L322.6,552.5 L324.6,553.7 L326.7,554.8 L328.8,556.0 L330.9,557.1 L333.0,558.3 L335.1,559.4 L337.2,560.5 L339.3,561.6 L341.4,562.7 L343.5,563.8 L345.6,564.8 L347.6,565.9 L349.7,567.0 L351.8,568.0 L353.9,569.0 L356.0,570.1 L358.1,571.1 L360.2,572.1 L362.3,573.1 L364.4,574.1 L366.5,575.1 L368.5,576.0 L370.6,577.0 L372.7,578.0 L374.8,578.9 L376.9,579.9 L379.0,580.8 L381.1,581.8 L383.2,582.7 L385.3,583.6 L387.4,584.5 L389.5,585.4 L391.5,586.4 L393.6,587.2 L395.7,588.1 L397.8,589.0 L399.9,589.9 L402.0,590.8 L404.1,591.6 L406.2,592.5 L408.3,593.3 L410.4,594.2 L412.5,595.0 L414.5,595.8 L416.6,596.7 L418.7,597.5 L420.8,598.3 L422.9,599.1 L425.0,599.9 L427.1,600.7 L429.2,601.5 L431.3,602.3 L433.4,603.0 L435.5,603.8 L437.5,604.6 L439.6,605.3 L441.7,606.1 L443.8,606.9 L445.9,607.6 L448.0,608.3 L450.0,608.3 L450.0,489.6 L238.9,489.6 Z" fill="#ff0b00"/>
<path d="M288.5,491.6 L290.1,492.9 L291.7,494.1 L293.3,495.4 L294.9,496.7 L296.5,497.9 L298.1,499.1 L299.7,500.2 L301.3,501.3 L302.9,502.4 L304.5,503.4 L306.1,504.5 L307.7,505.6 L309.3,506.7 L310.9,507.7 L312.5,508.8 L314.1,509.8 L315.6,510.8 L317.2,511.8 L318.8,512.9 L320.4,513.9 L322.0,514.9 L323.6,515.8 L325.2,516.8 L326.8,517.8 L328.4,518.8 L330.0,519.7 L331.6,520.7 L333.2,521.6 L334.8,522.6 L336.4,523.5 L338.0,524.5 L339.6,525.4 L341.2,526.3 L342.8,527.2 L344.4,528.1 L345.9,529.0 L347.5,529.9 L349.1,530.8 L350.7,531.7 L352.3,532.5 L353.9,533.4 L355.5,534.3 L357.1,535.1 L358.7,536.0 L360.3,536.8 L361.9,537.7 L363.5,538.5 L365.1,539.3 L366.7,540.1 L368.3,541.0 L369.9,541.8 L371.5,542.6 L373.1,543.4 L374.6,544.2 L376.2,545.0 L377.8,545.8 L379.4,546.6 L381.0,547.3 L382.6,548.1 L384.2,548.9 L385.8,549.6 L387.4,550.4 L389.0,551.2 L390.6,551.9 L392.2,552.7 L393.8,553.4 L395.4,554.1 L397.0,554.9 L398.6,555.6 L400.2,556.3 L401.8,557.1 L403.4,557.8 L404.9,558.5 L406.5,559.2 L408.1,559.9 L409.7,560.6 L411.3,561.3 L412.9,562.0 L414.5,562.7 L416.1,563.4 L417.7,564.0 L419.3,564.7 L420.9,565.4 L422.5,566.1 L424.1,566.7 L425.7,567.4 L427.3,568.0 L428.9,568.7 L430.5,569.3 L432.1,570.0 L433.6,570.6 L435.2,571.3 L436.8,571.9 L438.4,572.5 L440.0,573.2 L441.6,573.8 L443.2,574.4 L444.8,575.0 L446.4,575.7 L448.0,576.3 L450.0,576.3 L450.0,489.6 L288.5,489.6 Z" fill="#b50000"/>
<path d="M341.0,491.6 L342.1,492.3 L343.1,492.9 L344.2,493.6 L345.3,494.3 L346.4,494.9 L347.4,495.6 L348.5,496.2 L349.6,496.9 L350.6,497.5 L351.7,498.2 L352.8,498.8 L353.8,499.4 L354.9,500.1 L356.0,500.7 L357.1,501.3 L358.1,502.0 L359.2,502.6 L360.3,503.2 L361.3,503.8 L362.4,504.5 L363.5,505.1 L364.5,505.7 L365.6,506.3 L366.7,506.9 L367.8,507.5 L368.8,508.1 L369.9,508.7 L371.0,509.3 L372.0,509.9 L373.1,510.5 L374.2,511.0 L375.2,511.6 L376.3,512.1 L377.4,512.7 L378.5,513.2 L379.5,513.8 L380.6,514.3 L381.7,514.9 L382.7,515.4 L383.8,516.0 L384.9,516.5 L385.9,517.1 L387.0,517.6 L388.1,518.1 L389.2,518.7 L390.2,519.2 L391.3,519.7 L392.4,520.2 L393.4,520.8 L394.5,521.3 L395.6,521.8 L396.6,522.3 L397.7,522.8 L398.8,523.3 L399.9,523.8 L400.9,524.4 L402.0,524.9 L403.1,525.4 L404.1,525.9 L405.2,526.4 L406.3,526.9 L407.3,527.4 L408.4,527.8 L409.5,528.3 L410.6,528.8 L411.6,529.3 L412.7,529.8 L413.8,530.3 L414.8,530.8 L415.9,531.3 L417.0,531.7 L418.0,532.2 L419.1,532.7 L420.2,533.2 L421.3,533.6 L422.3,534.1 L423.4,534.6 L424.5,535.0 L425.5,535.5 L426.6,536.0 L427.7,536.4 L428.7,536.9 L429.8,537.3 L430.9,537.8 L432.0,538.2 L433.0,538.7 L434.1,539.1 L435.2,539.6 L436.2,540.0 L437.3,540.5 L438.4,540.9 L439.4,541.4 L440.5,541.8 L441.6,542.2 L442.7,542.7 L443.7,543.1 L444.8,543.6 L445.9,544.0 L446.9,544.4 L448.0,544.8 L450.0,544.8 L450.0,489.6 L341.0,489.6 Z" fill="#600000"/>
<path d="M390.6,491.6 L391.2,491.9 L391.8,492.2 L392.4,492.4 L392.9,492.7 L393.5,493.0 L394.1,493.3 L394.7,493.6 L395.2,493.9 L395.8,494.1 L396.4,494.4 L396.9,494.7 L397.5,495.0 L398.1,495.2 L398.7,495.5 L399.2,495.8 L399.8,496.1 L400.4,496.3 L401.0,496.6 L401.5,496.9 L402.1,497.2 L402.7,497.4 L403.3,497.7 L403.8,498.0 L404.4,498.2 L405.0,498.5 L405.6,498.8 L406.1,499.0 L406.7,499.3 L407.3,499.6 L407.8,499.8 L408.4,500.1 L409.0,500.4 L409.6,500.6 L410.1,500.9 L410.7,501.2 L411.3,501.4 L411.9,501.7 L412.4,502.0 L413.0,502.2 L413.6,502.5 L414.2,502.7 L414.7,503.0 L415.3,503.3 L415.9,503.5 L416.4,503.8 L417.0,504.0 L417.6,504.3 L418.2,504.5 L418.7,504.8 L419.3,505.1 L419.9,505.3 L420.5,505.6 L421.0,505.8 L421.6,506.1 L422.2,506.3 L422.8,506.6 L423.3,506.8 L423.9,507.1 L424.5,507.3 L425.1,507.6 L425.6,507.8 L426.2,508.1 L426.8,508.3 L427.3,508.6 L427.9,508.8 L428.5,509.1 L429.1,509.3 L429.6,509.6 L430.2,509.8 L430.8,510.0 L431.4,510.3 L431.9,510.5 L432.5,510.8 L433.1,511.0 L433.7,511.3 L434.2,511.5 L434.8,511.7 L435.4,512.0 L436.0,512.2 L436.5,512.5 L437.1,512.7 L437.7,512.9 L438.2,513.2 L438.8,513.4 L439.4,513.7 L440.0,513.9 L440.5,514.1 L441.1,514.4 L441.7,514.6 L442.3,514.8 L442.8,515.1 L443.4,515.3 L444.0,515.5 L444.6,515.8 L445.1,516.0 L445.7,516.2 L446.3,516.5 L446.9,516.7 L447.4,516.9 L448.0,517.2 L450.0,517.2 L450.0,489.6 L390.6,489.6 Z" fill="#0b0000"/>
<path d="M70.6,612.8 L74.4,621.3 L78.1,629.2 L81.9,636.6 L85.7,643.6 L89.5,650.2 L93.2,656.4 L97.0,662.2 L100.8,667.8 L104.6,673.4 L108.3,678.7 L112.1,683.8 L115.9,688.6 L119.7,693.3 L123.4,697.7 L127.2,701.7 L131.0,705.5 L134.8,709.2 L138.5,712.8 L142.3,716.2 L146.1,719.5 L149.9,722.4 L153.6,725.2 L157.4,727.9 L161.2,730.4 L164.9,733.0 L168.7,735.4 L172.5,737.8 L176.3,740.0 L180.0,742.3 L183.8,744.4 L187.6,746.4 L191.4,748.3 L195.1,750.1 L198.9,751.9 L202.7,753.7 L206.5,755.4 L210.2,757.1 L214.0,758.7 L217.8,760.3 L221.6,761.8 L225.3,763.2 L229.1,764.5 L232.9,765.8 L236.7,767.1 L240.4,768.3 L244.2,769.5 L248.0,770.7 L251.8,771.8 L255.5,773.0 L259.3,774.1 L263.1,775.2 L266.8,776.2 L270.6,777.3 L274.4,778.3 L278.2,779.3 L281.9,780.3 L285.7,781.2 L289.5,782.2 L293.3,783.1 L297.0,784.0 L300.8,784.9 L304.6,785.8 L308.4,786.7 L312.1,787.6 L315.9,788.5 L319.7,789.3 L323.5,790.2 L327.2,791.0 L331.0,791.8 L334.8,792.6 L338.6,793.4 L342.3,794.2 L346.1,794.9 L349.9,795.7 L353.6,796.4 L357.4,797.1 L361.2,797.8 L365.0,798.5 L368.7,799.2 L372.5,799.9 L376.3,800.5 L380.1,801.2 L383.8,801.8 L387.6,802.4 L391.4,803.0 L395.2,803.5 L398.9,804.1 L402.7,804.7 L406.5,805.2 L410.3,805.8 L414.0,806.3 L417.8,806.9 L421.6,807.4 L425.4,807.9 L429.1,808.4 L432.9,809.0 L436.7,809.5 L440.5,809.9 L444.2,810.4 L448.0,810.9" fill="none" stroke="#000" stroke-width="1.7" stroke-dasharray="4.5,2.4"/>
</g>
<rect x="70.6" y="491.6" width="377.4" height="326.0" fill="none" stroke="#000" stroke-width="1.5"/>
<path d="M70.60,491.6 v-3.5 M70.60,817.6 v3.5 M85.70,491.6 v-1.8 M85.70,817.6 v1.8 M100.79,491.6 v-1.8 M100.79,817.6 v1.8 M115.89,491.6 v-1.8 M115.89,817.6 v1.8 M130.98,491.6 v-1.8 M130.98,817.6 v1.8 M146.08,491.6 v-3.5 M146.08,817.6 v3.5 M161.18,491.6 v-1.8 M161.18,817.6 v1.8 M176.27,491.6 v-1.8 M176.27,817.6 v1.8 M191.37,491.6 v-1.8 M191.37,817.6 v1.8 M206.46,491.6 v-1.8 M206.46,817.6 v1.8 M221.56,491.6 v-3.5 M221.56,817.6 v3.5 M236.66,491.6 v-1.8 M236.66,817.6 v1.8 M251.75,491.6 v-1.8 M251.75,817.6 v1.8 M266.85,491.6 v-1.8 M266.85,817.6 v1.8 M281.94,491.6 v-1.8 M281.94,817.6 v1.8 M297.04,491.6 v-3.5 M297.04,817.6 v3.5 M312.14,491.6 v-1.8 M312.14,817.6 v1.8 M327.23,491.6 v-1.8 M327.23,817.6 v1.8 M342.33,491.6 v-1.8 M342.33,817.6 v1.8 M357.42,491.6 v-1.8 M357.42,817.6 v1.8 M372.52,491.6 v-3.5 M372.52,817.6 v3.5 M387.62,491.6 v-1.8 M387.62,817.6 v1.8 M402.71,491.6 v-1.8 M402.71,817.6 v1.8 M417.81,491.6 v-1.8 M417.81,817.6 v1.8 M432.90,491.6 v-1.8 M432.90,817.6 v1.8 M448.00,491.6 v-3.5 M448.00,817.6 v3.5 M70.6,817.60 h-3.5 M448.0,817.60 h3.5 M70.6,806.73 h-1.8 M448.0,806.73 h1.8 M70.6,795.87 h-1.8 M448.0,795.87 h1.8 M70.6,785.00 h-1.8 M448.0,785.00 h1.8 M70.6,774.13 h-1.8 M448.0,774.13 h1.8 M70.6,763.27 h-1.8 M448.0,763.27 h1.8 M70.6,752.40 h-1.8 M448.0,752.40 h1.8 M70.6,741.53 h-1.8 M448.0,741.53 h1.8 M70.6,730.67 h-1.8 M448.0,730.67 h1.8 M70.6,719.80 h-1.8 M448.0,719.80 h1.8 M70.6,708.93 h-3.5 M448.0,708.93 h3.5 M70.6,698.07 h-1.8 M448.0,698.07 h1.8 M70.6,687.20 h-1.8 M448.0,687.20 h1.8 M70.6,676.33 h-1.8 M448.0,676.33 h1.8 M70.6,665.47 h-1.8 M448.0,665.47 h1.8 M70.6,654.60 h-1.8 M448.0,654.60 h1.8 M70.6,643.73 h-1.8 M448.0,643.73 h1.8 M70.6,632.87 h-1.8 M448.0,632.87 h1.8 M70.6,622.00 h-1.8 M448.0,622.00 h1.8 M70.6,611.13 h-1.8 M448.0,611.13 h1.8 M70.6,600.27 h-3.5 M448.0,600.27 h3.5 M70.6,589.40 h-1.8 M448.0,589.40 h1.8 M70.6,578.53 h-1.8 M448.0,578.53 h1.8 M70.6,567.67 h-1.8 M448.0,567.67 h1.8 M70.6,556.80 h-1.8 M448.0,556.80 h1.8 M70.6,545.93 h-1.8 M448.0,545.93 h1.8 M70.6,535.07 h-1.8 M448.0,535.07 h1.8 M70.6,524.20 h-1.8 M448.0,524.20 h1.8 M70.6,513.33 h-1.8 M448.0,513.33 h1.8 M70.6,502.47 h-1.8 M448.0,502.47 h1.8 M70.6,491.60 h-3.5 M448.0,491.60 h3.5" stroke="#000" stroke-width="1.2" fill="none"/>
<g font-family='"Liberation Sans", Arial, Helvetica, sans-serif' font-size="22" fill="#000" stroke="#000" stroke-width="0.3">
<text transform="translate(70.6,842.9) scale(1,1.06)" text-anchor="middle" font-size="21.4">0.1</text>
<text transform="translate(146.1,842.9) scale(1,1.06)" text-anchor="middle" font-size="21.4">0.2</text>
<text transform="translate(221.6,842.9) scale(1,1.06)" text-anchor="middle" font-size="21.4">0.3</text>
<text transform="translate(297.0,842.9) scale(1,1.06)" text-anchor="middle" font-size="21.4">0.4</text>
<text transform="translate(372.5,842.9) scale(1,1.06)" text-anchor="middle" font-size="21.4">0.5</text>
<text transform="translate(448.0,842.9) scale(1,1.06)" text-anchor="middle" font-size="21.4">0.6</text>
<text transform="translate(64.1,823.6) scale(1,1.06)" text-anchor="end" font-size="21.4">5</text>
<text transform="translate(64.1,714.9) scale(1,1.06)" text-anchor="end" font-size="21.4">10</text>
<text transform="translate(64.1,606.3) scale(1,1.06)" text-anchor="end" font-size="21.4">15</text>
<text transform="translate(64.1,497.6) scale(1,1.06)" text-anchor="end" font-size="21.4">20</text>
<text transform="translate(0,864.8) scale(1,1.025)" font-size="21.4"><tspan x="131.4">Chemical Potential,</tspan> <tspan x="324.0" font-family='"Liberation Serif", "Times New Roman", serif' font-size="23.5" stroke-width="0.1">μ</tspan> <tspan x="343.4">(eV)</tspan></text>
<text transform="translate(29.8,750.1) rotate(-90)" font-size="21.8"><tspan x="0">Wavelength,</tspan> <tspan x="126.6" font-family='"Liberation Serif", "Times New Roman", serif' font-size="23.5" stroke-width="0.1">λ</tspan> <tspan x="145.0">(</tspan><tspan x="152.3" font-family='"Liberation Serif", "Times New Roman", serif' font-size="23.5" stroke-width="0.1">μ</tspan><tspan x="165.6">m)</tspan></text>
<text x="88.0" y="792.6">d<tspan font-size="15" dy="5">d</tspan><tspan dy="-5"> = 10 nm</tspan></text>
<text x="-1.2" y="478.50" font-size="28.6">(b)</text>
<rect x="462.3" y="492.1" width="17.5" height="326.2" fill="url(#hotgrad)" stroke="#000" stroke-width="1.5"/>
<text transform="translate(488.8,496.4) scale(1,1.06)" text-anchor="start" font-size="21.4">0</text>
<text transform="translate(488.8,578.1) scale(1,1.06)" text-anchor="start" font-size="21.4">-20</text>
<text transform="translate(488.8,659.9) scale(1,1.06)" text-anchor="start" font-size="21.4">-40</text>
<text transform="translate(488.8,741.6) scale(1,1.06)" text-anchor="start" font-size="21.4">-60</text>
<text transform="translate(488.8,823.3) scale(1,1.06)" text-anchor="start" font-size="21.4">-80</text>
<path d="M462.3,573.6 h2.2 M479.8,573.6 h-2.2 M462.3,655.2 h2.2 M479.8,655.2 h-2.2 M462.3,736.8 h2.2 M479.8,736.8 h-2.2" stroke="#000" stroke-width="1"/>
<text x="461.8" y="480.1" font-family='"Liberation Serif", "Times New Roman", serif' font-style="italic" font-size="21" stroke-width="0.2">ε<tspan font-style="normal" font-size="14" dy="4" dx="-1.5">O</tspan></text>
</g>
</g>
</svg>
</body></html>
